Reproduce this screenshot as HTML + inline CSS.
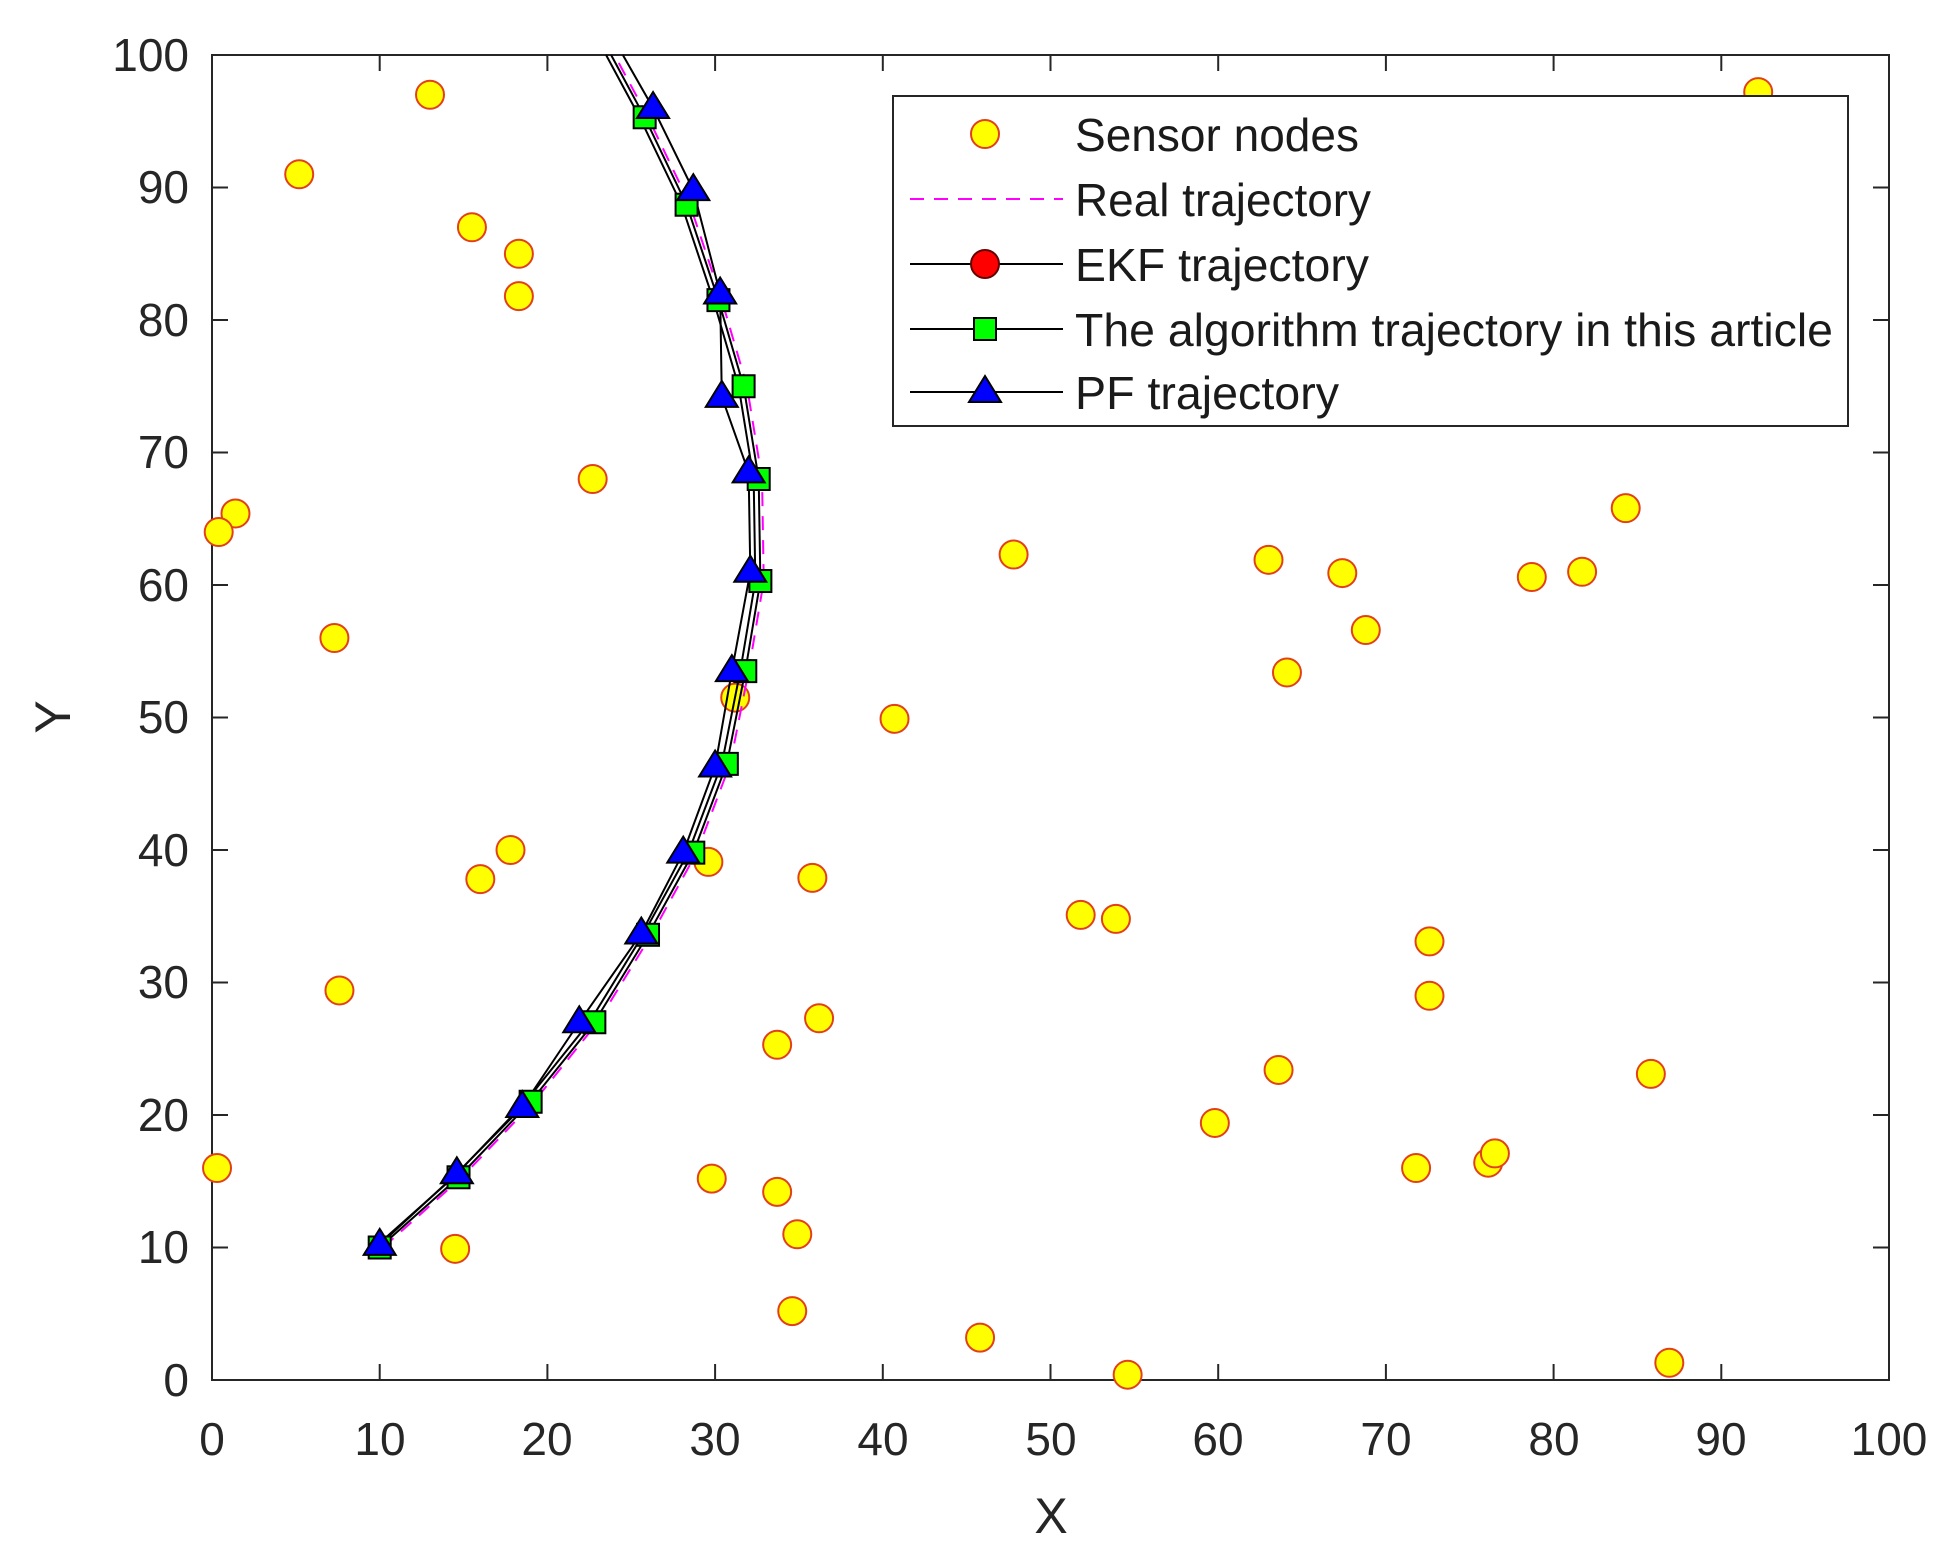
<!DOCTYPE html>
<html><head><meta charset="utf-8"><style>
html,body{margin:0;padding:0;background:#fff;}
svg{display:block;font-family:"Liberation Sans",Arial,sans-serif;}
</style></head><body>
<svg id="s" width="1955" height="1551" viewBox="0 0 1955 1551" xmlns="http://www.w3.org/2000/svg">
<rect width="1955" height="1551" fill="#fff"/>
<rect x="212" y="55" width="1677" height="1325" fill="#fff" stroke="#262626" stroke-width="2"/>
<g id="ticks" stroke="#262626" stroke-width="2"></g>
<g font-size="46" fill="#262626" text-anchor="middle">
<text x="212" y="1455">0</text><text x="380" y="1455">10</text><text x="547" y="1455">20</text><text x="715" y="1455">30</text><text x="883" y="1455">40</text><text x="1051" y="1455">50</text><text x="1218" y="1455">60</text><text x="1386" y="1455">70</text><text x="1554" y="1455">80</text><text x="1721" y="1455">90</text><text x="1889" y="1455">100</text>
</g>
<g font-size="46" fill="#262626" text-anchor="end">
<text x="189" y="1396">0</text><text x="189" y="1263">10</text><text x="189" y="1131">20</text><text x="189" y="998">30</text><text x="189" y="866">40</text><text x="189" y="733">50</text><text x="189" y="601">60</text><text x="189" y="468">70</text><text x="189" y="336">80</text><text x="189" y="203">90</text><text x="189" y="71">100</text>
</g>
<text x="1051" y="1533" font-size="50" fill="#262626" text-anchor="middle">X</text>
<text transform="translate(70,717) rotate(-90)" font-size="50" fill="#262626" text-anchor="middle">Y</text>
<g id="data"></g>
<g>
<rect x="893" y="96" width="955" height="330" fill="#fff" stroke="#262626" stroke-width="2"/>
<circle cx="985" cy="134" r="14" fill="#ffff00" stroke="#e2401c" stroke-width="2"/>
<line x1="910" y1="199" x2="1063" y2="199" stroke="#ff00ff" stroke-width="2" stroke-dasharray="14,10"/>
<line x1="910" y1="264" x2="1063" y2="264" stroke="#000" stroke-width="2"/>
<circle cx="985" cy="264" r="14" fill="#ff0000" stroke="#600" stroke-width="2"/>
<line x1="910" y1="329" x2="1063" y2="329" stroke="#000" stroke-width="2"/>
<rect x="974" y="318" width="22" height="22" fill="#00ff00" stroke="#000" stroke-width="2"/>
<line x1="910" y1="392" x2="1063" y2="392" stroke="#000" stroke-width="2"/>
<polygon points="985,376 1001,402 969,402" fill="#0000ff" stroke="#000" stroke-width="2"/>
<g font-size="46" fill="#1a1a1a">
<text x="1075" y="151" textLength="284" lengthAdjust="spacingAndGlyphs">Sensor nodes</text>
<text x="1075" y="216" textLength="296" lengthAdjust="spacingAndGlyphs">Real trajectory</text>
<text x="1075" y="281" textLength="294" lengthAdjust="spacingAndGlyphs">EKF trajectory</text>
<text x="1075" y="346" textLength="758" lengthAdjust="spacingAndGlyphs">The algorithm trajectory in this article</text>
<text x="1075" y="409" textLength="264" lengthAdjust="spacingAndGlyphs">PF trajectory</text>
</g>
</g>
</svg>
<script>
const NS="http://www.w3.org/2000/svg";
const X=v=>212+16.77*v, Y=v=>1380-13.25*v;
function el(t,a,p){const e=document.createElementNS(NS,t);for(const k in a)e.setAttribute(k,a[k]);p.appendChild(e);return e;}
const tk=document.getElementById('ticks');
for(let i=0;i<=10;i++){const x=X(i*10),y=Y(i*10);
el('line',{x1:x,y1:1380,x2:x,y2:1364},tk);el('line',{x1:x,y1:55,x2:x,y2:71},tk);
el('line',{x1:212,y1:y,x2:228,y2:y},tk);el('line',{x1:1889,y1:y,x2:1873,y2:y},tk);}
const d=document.getElementById('data');
const nodes=[[13,97],[5.2,91],[15.5,87],[18.3,85],[18.3,81.8],[22.7,68],[1.4,65.4],[0.4,64],[7.3,56],[31.2,51.5],[40.7,49.9],[47.8,62.3],[17.8,40],[16,37.8],[29.6,39.1],[35.8,37.9],[7.6,29.4],[33.7,25.3],[36.2,27.3],[0.3,16],[29.8,15.2],[33.7,14.2],[14.5,9.9],[34.9,11],[34.6,5.2],[45.8,3.2],[54.6,0.4],[86.9,1.3],[92.2,97.2],[63,61.9],[67.4,60.9],[68.8,56.6],[64.1,53.4],[78.7,60.6],[81.7,61],[84.3,65.8],[51.8,35.1],[53.9,34.8],[72.6,33.1],[72.6,29],[63.6,23.4],[59.8,19.4],[71.8,16],[76.1,16.4],[76.5,17.1],[85.8,23.1]];
for(const [a,b] of nodes){const cy=Y(b);if(cy<50)continue;el('circle',{cx:X(a),cy:cy,r:14,fill:'#ffff00',stroke:'#e2401c','stroke-width':2},d);}
const tr=[[10,10],[14.7,15.3],[19,21],[22.8,27],[26,33.6],[28.7,39.8],[30.7,46.5],[31.8,53.5],[32.7,60.3],[32.6,68],[31.7,75],[30.2,81.5],[28.3,88.7],[25.8,95.3],[23.8,100]];
const pf=[[10,10.2],[14.6,15.6],[18.5,20.6],[21.9,27],[25.6,33.7],[28.1,39.8],[30,46.3],[31,53.5],[32.1,61],[32,68.5],[30.4,74.2],[30.3,82],[28.7,89.8],[26.3,96],[24.5,100]];
const pts=a=>a.map(p=>X(p[0])+','+Y(p[1])).join(' ');
el('polyline',{points:pts(tr.map(p=>[p[0]+0.2,p[1]])),fill:'none',stroke:'#ff00ff','stroke-width':2,'stroke-dasharray':'14,10'},d);
el('polyline',{points:pts(tr.map(p=>[p[0]-0.3,p[1]])),fill:'none',stroke:'#000','stroke-width':2},d);
el('polyline',{points:pts(tr),fill:'none',stroke:'#000','stroke-width':2},d);
el('polyline',{points:pts(pf),fill:'none',stroke:'#000','stroke-width':2},d);
tr.slice(0,14).forEach(p=>{el('rect',{x:X(p[0])-11,y:Y(p[1])-11,width:22,height:22,fill:'#00ff00',stroke:'#000','stroke-width':2},d);});
pf.slice(0,14).forEach(p=>{const x=X(p[0]),y=Y(p[1]);el('polygon',{points:`${x},${y-16} ${x+16},${y+10} ${x-16},${y+10}`,fill:'#0000ff',stroke:'#000','stroke-width':2},d);});
</script>
</body></html>
